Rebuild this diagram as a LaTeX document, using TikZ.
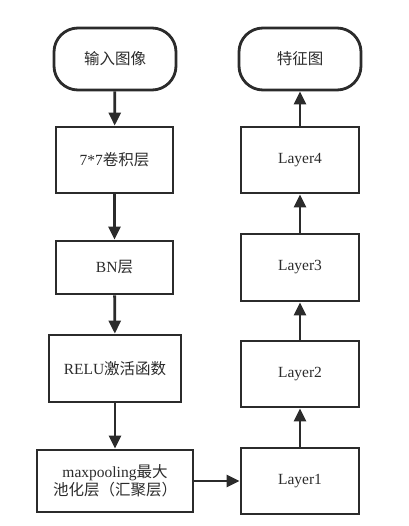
\documentclass[tikz,border=0pt]{standalone}
\usepackage{fontspec}
\setmainfont{Liberation Serif}
\newfontfamily\cjk{Noto Sans CJK SC}
\usetikzlibrary{arrows.meta}
\definecolor{ink}{HTML}{2B2B2B}
\begin{document}
\begin{tikzpicture}[x=1pt,y=-1pt,
  every node/.style={font=\fontsize{15.5}{19}\selectfont, text=ink},
  box/.style={draw=ink, line width=2.8pt, rectangle, inner sep=0pt},
  term/.style={draw=ink, line width=2.8pt, rectangle, rounded corners=24pt, inner sep=0pt},
  conn/.style={draw=ink, line width=2.8pt, -{Triangle[length=13pt,width=12pt]}}]
\useasboundingbox (0,0) rectangle (408,526);
\node[term, minimum width=122pt, minimum height=62pt] (in) at (115,59) {\cjk 输入图像};
\node[box, minimum width=117pt, minimum height=66pt] (conv) at (114.5,160) {7*7{\cjk 卷积层}};
\node[box, minimum width=117pt, minimum height=53pt] (bn) at (114.5,267.5) {BN{\cjk 层}};
\node[box, minimum width=132pt, minimum height=67pt] (relu) at (115,368.5) {RELU{\cjk 激活函数}};
\node[box, minimum width=156pt, minimum height=62pt, align=center] (pool) at (115,481) {maxpooling{\cjk 最大}\\[-1pt]{\cjk 池化层（汇聚层）}};
\node[term, minimum width=122pt, minimum height=62pt] (out) at (300,59) {\cjk 特征图};
\node[box, minimum width=118pt, minimum height=66pt] (l4) at (300,160) {Layer4};
\node[box, minimum width=118pt, minimum height=67pt] (l3) at (300,267.5) {Layer3};
\node[box, minimum width=118pt, minimum height=66pt] (l2) at (300,374) {Layer2};
\node[box, minimum width=118pt, minimum height=66pt] (l1) at (300,481) {Layer1};
\draw[conn] (in) -- (conv);
\draw[conn] (conv) -- (bn);
\draw[conn] (bn) -- (relu);
\draw[conn] (relu) -- (pool);
\draw[conn] (pool) -- (l1);
\draw[conn] (l1) -- (l2);
\draw[conn] (l2) -- (l3);
\draw[conn] (l3) -- (l4);
\draw[conn] (l4) -- (out);
\end{tikzpicture}
\end{document}
